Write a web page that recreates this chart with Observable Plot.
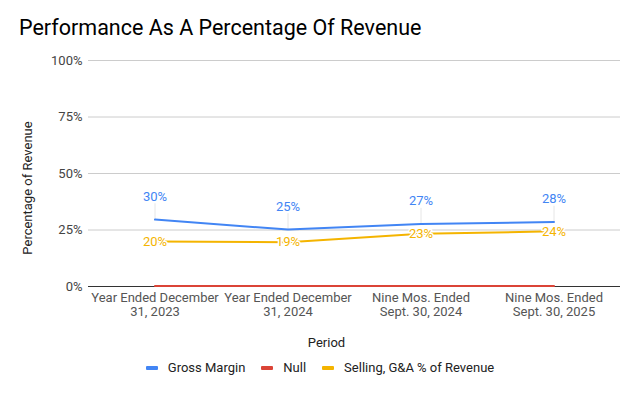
<!DOCTYPE html>
<html><head><meta charset="utf-8">
<script src="https://cdn.jsdelivr.net/npm/d3@7"></script>
<script src="https://cdn.jsdelivr.net/npm/@observablehq/plot@0.6"></script>
<style>
body{margin:0;background:#fff;font-family:Roboto,sans-serif;}
#wrap{position:relative;width:640px;height:395px;}
#title{position:absolute;left:19px;top:15px;font-size:21.5px;color:#000;white-space:nowrap;}
#ylab{position:absolute;left:27px;top:188px;transform:translate(-50%,-50%) rotate(-90deg);font-size:13px;color:#222;white-space:nowrap;}
#chart{position:absolute;left:0;top:50px;}
#legend{position:absolute;top:360px;left:0;width:640px;display:flex;justify-content:center;font-size:13px;color:#222;}
.item{display:flex;align-items:center;margin:0 8px;}
.sw{width:12px;height:4px;margin-right:10px;border-radius:1px;}
</style></head>
<body><div id="wrap">
<div id="title">Performance As A Percentage Of Revenue</div>
<div id="ylab">Percentage of Revenue</div>
<div id="chart"></div>
<div id="legend"></div>
</div>
<script>
const categories = ["Year Ended December 31, 2023","Year Ended December 31, 2024","Nine Mos. Ended Sept. 30, 2024","Nine Mos. Ended Sept. 30, 2025"];
const tickLabels = ["Year Ended December\n31, 2023","Year Ended December\n31, 2024","Nine Mos. Ended\nSept. 30, 2024","Nine Mos. Ended\nSept. 30, 2025"];
const grossMargin = [29.6, 25.2, 27.6, 28.5];
const grossLabels = ["30%","25%","27%","28%"];
const nullSeries = [0, 0, 0, 0];
const sga = [19.9, 19.6, 23.3, 24.4];
const sgaLabels = ["20%","19%","23%","24%"];
const seriesNames = ["Gross Margin","Null","Selling, G&A % of Revenue"];
const colors = ["#4285f4","#db4437","#f4b400"];
const yTicks = [0,25,50,75,100];

const gm = categories.map((c,i)=>({period:c, value:grossMargin[i], label:grossLabels[i]}));
const nl = categories.map((c,i)=>({period:c, value:nullSeries[i]}));
const sg = categories.map((c,i)=>({period:c, value:sga[i], label:sgaLabels[i]}));
const tickMap = new Map(categories.map((c,i)=>[c,tickLabels[i]]));

const chart = Plot.plot({
  width:640, height:302,
  marginTop:10, marginBottom:66, marginLeft:88, marginRight:20,
  style:{fontFamily:"Roboto, sans-serif", fontSize:"13px", color:"#444", background:"transparent"},
  x:{type:"band", domain:categories, padding:0, label:null},
  y:{domain:[0,100], label:null},
  marks:[
    Plot.gridY(yTicks, {stroke:"#ccc", strokeOpacity:1}),
    Plot.axisY(yTicks, {tickSize:0, tickPadding:6, tickFormat:d=>d+"%", fill:"#444", fontSize:13}),
    Plot.axisX({tickSize:0, tickPadding:5, tickFormat:d=>tickMap.get(d), fill:"#555", fontSize:13, lineHeight:1.1, label:null}),
    Plot.text(["Period"], {frameAnchor:"bottom", dx:-28, dy:60, fill:"#222", fontSize:13}),
    Plot.ruleY([0], {stroke:"#333", strokeWidth:1}),
    Plot.ruleX(gm, {x:"period", y1:"value", y2:d=>d.value+7, stroke:"#e6e6e6", strokeWidth:1}),
    Plot.line(nl, {x:"period", y:"value", stroke:colors[1], strokeWidth:2, dy:-0.5}),
    Plot.line(gm, {x:"period", y:"value", stroke:colors[0], strokeWidth:2}),
    Plot.line(sg, {x:"period", y:"value", stroke:colors[2], strokeWidth:2}),
    Plot.text(gm, {x:"period", y:"value", text:"label", dy:-23, fill:colors[0], fontSize:13, stroke:"white", strokeWidth:3, paintOrder:"stroke"}),
    Plot.text(sg, {x:"period", y:"value", text:"label", fill:colors[2], fontSize:13, stroke:"white", strokeWidth:3, paintOrder:"stroke"})
  ]
});
document.getElementById("chart").appendChild(chart);

const legend = document.getElementById("legend");
seriesNames.forEach((n,i)=>{
  const it = document.createElement("div"); it.className="item";
  const sw = document.createElement("div"); sw.className="sw"; sw.style.background=colors[i];
  const tx = document.createElement("span"); tx.textContent=n;
  it.appendChild(sw); it.appendChild(tx); legend.appendChild(it);
});
</script>
</body></html>
